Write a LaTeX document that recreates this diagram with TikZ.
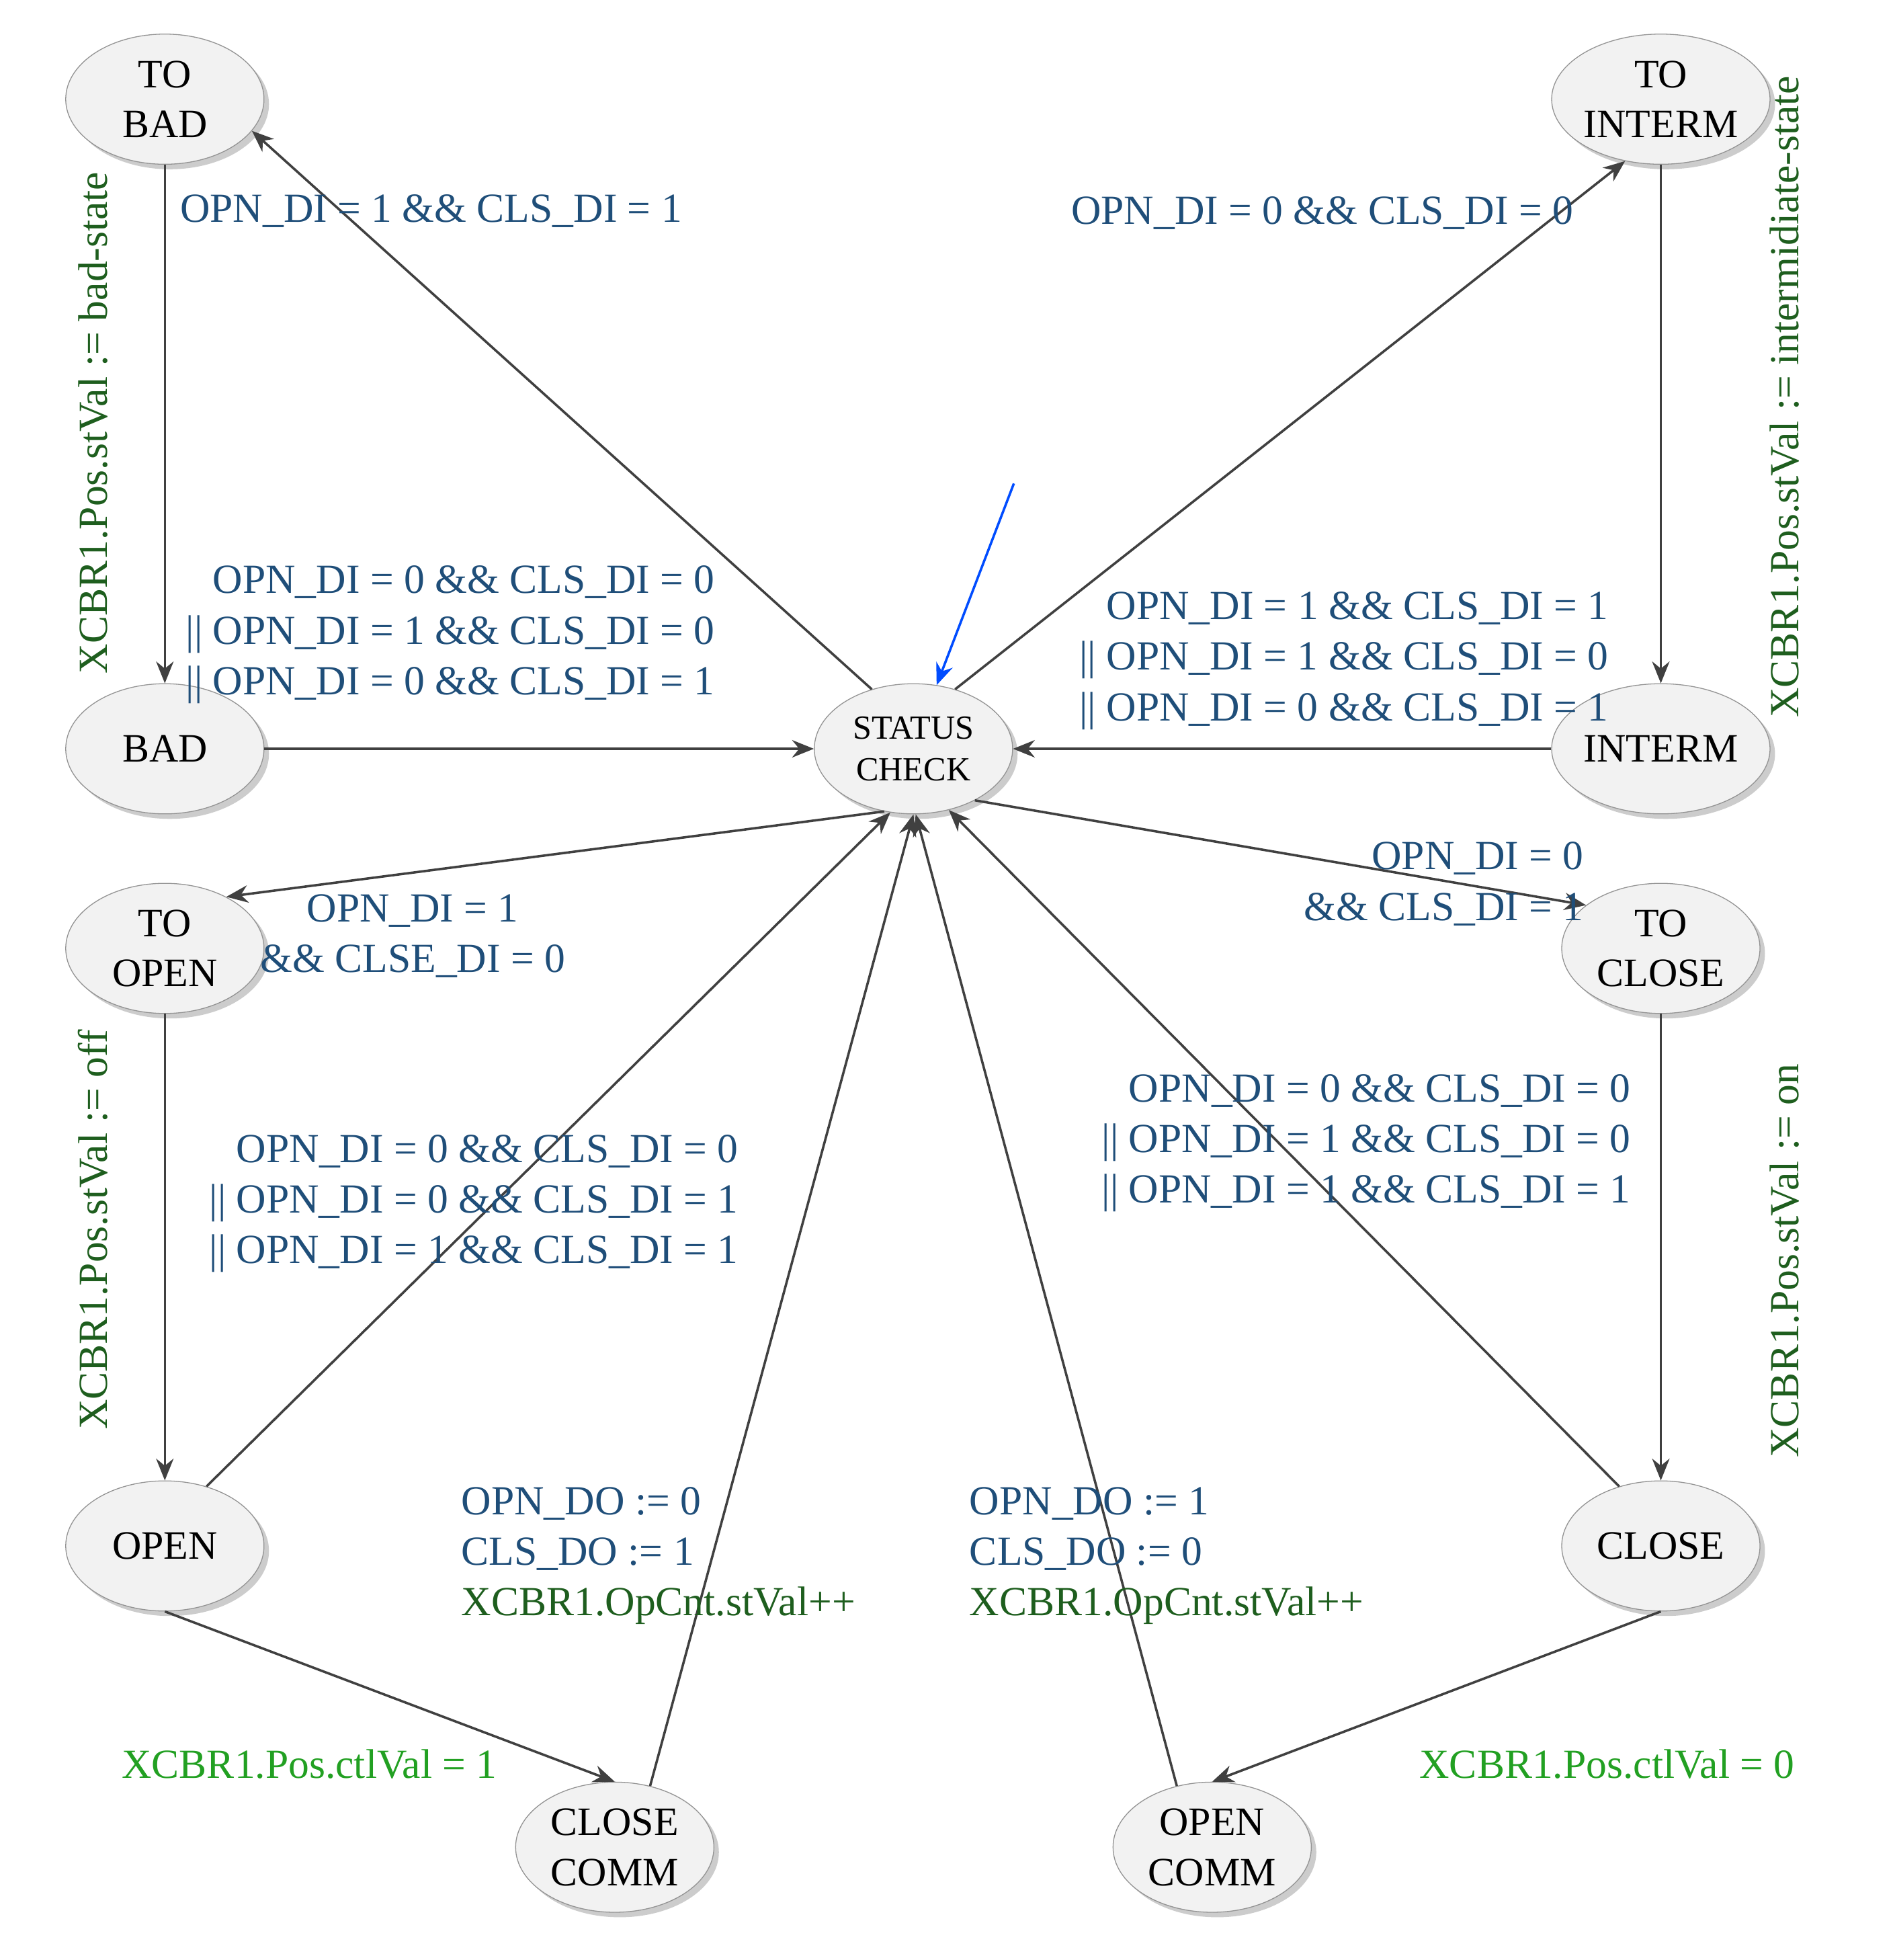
\documentclass[tikz,border=0pt]{standalone}
\usepackage{fontspec}
\setmainfont{Liberation Serif}
\usetikzlibrary{shadows,arrows.meta,shapes.geometric}
\definecolor{lbl}{HTML}{1F4E79}
\definecolor{dgreen}{HTML}{1E5E1E}
\definecolor{bgreen}{HTML}{22A022}
\definecolor{edge}{HTML}{404040}
\begin{document}
\begin{tikzpicture}[x=0.02cm,y=-0.02cm,
  st/.style={ellipse,draw=gray!85,fill=gray!10,drop shadow={opacity=0.4},minimum width=3.2cm,minimum height=2.1cm,align=center,inner sep=0pt,font=\fontsize{18.5}{23}\selectfont},
  ar/.style={draw=edge,line width=1.1pt,-{Stealth[length=10pt,width=8pt]}},
  lb/.style={text=lbl,font=\fontsize{19}{23.2}\selectfont,inner sep=0pt},
  rot/.style={text=dgreen,font=\fontsize{19}{23}\selectfont,rotate=90,inner sep=0pt}]
\useasboundingbox (0,0) rectangle (1527,1581);
\node[st] (tobad) at (133,80) {TO\\BAD};
\node[st] (bad) at (133,604) {BAD};
\node[st,font=\fontsize{15.5}{19}\selectfont] (sc) at (737,604) {STATUS\\CHECK};
\node[st] (toint) at (1340,80) {TO\\INTERM};
\node[st] (int) at (1340,604) {INTERM};
\node[st] (toopen) at (133,765) {TO\\OPEN};
\node[st] (toclose) at (1340,765) {TO\\CLOSE};
\node[st] (open) at (133,1247) {OPEN};
\node[st] (close) at (1340,1247) {CLOSE};
\node[st] (ccomm) at (496,1490) {CLOSE\\COMM};
\node[st] (ocomm) at (978,1490) {OPEN\\COMM};
\coordinate (init) at (818,390);

\draw[ar] (tobad) -- (bad);
\draw[ar] (bad) -- (sc);
\draw[ar] (sc.125) -- (tobad.-20);
\draw[ar] (sc.55) -- (toint.-120);
\draw[ar] (toint) -- (int);
\draw[ar] (int) -- (sc);
\draw[ar] (sc.-115) -- (toopen.40);
\draw[ar] (sc.-40) -- (toclose.150);
\draw[ar] (toopen) -- (open);
\draw[ar] (toclose) -- (close);
\draw[ar] (open.55) -- (sc.-110);
\draw[ar] (ccomm.60) -- (sc.-90);
\draw[ar] (ocomm.120) -- (sc.-88);
\draw[ar] (close.125) -- (sc.-60);
\draw[ar] (open.-90) -- (ccomm.90);
\draw[ar] (close.-90) -- (ocomm.90);
\draw[draw=blue!70!cyan,line width=1.1pt,-{Stealth[length=10pt,width=8pt]}] (init) -- (sc.70);

\node[lb,anchor=west] at (145,170) {OPN\_DI = 1 \&\& CLS\_DI = 1};
\node[lb,anchor=west] at (864,172) {OPN\_DI = 0 \&\& CLS\_DI = 0};
\node[lb,anchor=east,align=right] at (577,512) {OPN\_DI = 0 \&\& CLS\_DI = 0\\|| OPN\_DI = 1 \&\& CLS\_DI = 0\\|| OPN\_DI = 0 \&\& CLS\_DI = 1};
\node[lb,anchor=east,align=right] at (1298,533) {OPN\_DI = 1 \&\& CLS\_DI = 1\\|| OPN\_DI = 1 \&\& CLS\_DI = 0\\|| OPN\_DI = 0 \&\& CLS\_DI = 1};
\node[lb,anchor=east,align=right] at (1278,713) {OPN\_DI = 0\\\&\& CLS\_DI = 1};
\node[lb,align=center] at (333,755) {OPN\_DI = 1\\\&\& CLSE\_DI = 0};
\node[lb,anchor=east,align=right] at (596,971) {OPN\_DI = 0 \&\& CLS\_DI = 0\\|| OPN\_DI = 0 \&\& CLS\_DI = 1\\|| OPN\_DI = 1 \&\& CLS\_DI = 1};
\node[lb,anchor=east,align=right] at (1316,922) {OPN\_DI = 0 \&\& CLS\_DI = 0\\|| OPN\_DI = 1 \&\& CLS\_DI = 0\\|| OPN\_DI = 1 \&\& CLS\_DI = 1};
\node[lb,anchor=west,align=left] at (372,1255) {OPN\_DO := 0\\CLS\_DO := 1\\\textcolor{dgreen}{XCBR1.OpCnt.stVal++}};
\node[lb,anchor=west,align=left] at (782,1255) {OPN\_DO := 1\\CLS\_DO := 0\\\textcolor{dgreen}{XCBR1.OpCnt.stVal++}};
\node[lb,text=bgreen,anchor=west] at (98,1423) {XCBR1.Pos.ctlVal = 1};
\node[lb,text=bgreen,anchor=west] at (1145,1423) {XCBR1.Pos.ctlVal = 0};
\node[rot] at (75,341) {XCBR1.Pos.stVal := bad-state};
\node[rot] at (1440,320) {XCBR1.Pos.stVal := intermidiate-state};
\node[rot] at (75,992) {XCBR1.Pos.stVal := off};
\node[rot] at (1440,1017) {XCBR1.Pos.stVal := on};
\end{tikzpicture}
\end{document}
